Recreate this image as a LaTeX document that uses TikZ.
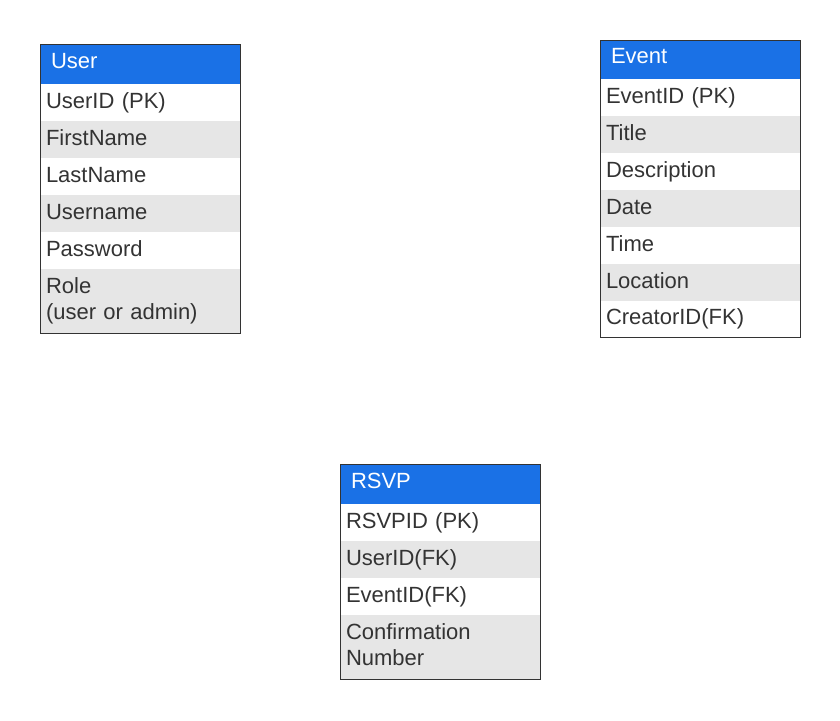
\documentclass[tikz,border=0pt]{standalone}
\usepackage{fontspec}
\setmainfont{Liberation Sans}
\usetikzlibrary{positioning}
\definecolor{lucidblue}{HTML}{1A71E6}
\definecolor{rowgray}{HTML}{E6E6E6}
\definecolor{inkgray}{HTML}{333333}
\tikzset{
  tblhead/.style={fill=lucidblue,text=white,minimum height=40pt,text width=178pt,
    text height=16pt,text depth=8pt,
    inner xsep=11pt,inner ysep=0pt,outer sep=0pt,align=left,font=\fontsize{22}{26}\selectfont},
  tblrow/.style={text=inkgray,minimum height=37pt,text width=188pt,
    text height=16pt,text depth=5pt,
    inner xsep=6pt,inner ysep=0pt,outer sep=0pt,align=left,font=\fontsize{22}{26}\selectfont},
  tblalt/.style={tblrow,fill=rowgray},
  tbltwo/.style={minimum height=64pt,text depth=31pt},
  tblframe/.style={draw=inkgray,line width=0.8pt}
}

\begin{document}
\begin{tikzpicture}[x=1pt,y=-1pt]
	\useasboundingbox (0,0) rectangle (840,720);

	\node [tblhead,anchor=north west] (userhd) at (40,44) {User};
	\node [tblrow,below=0pt of userhd] (userid) {UserID (PK)};
	\node [tblalt,below=0pt of userid] (userfirst) {FirstName};
	\node [tblrow,below=0pt of userfirst] (userlast) {LastName};
	\node [tblalt,below=0pt of userlast] (username) {Username};
	\node [tblrow,below=0pt of username] (userpass) {Password};
	\node [tblalt,tbltwo,below=0pt of userpass] (userrole) {Role\\(user or admin)};
	\draw [tblframe] (userhd.north west) rectangle (userrole.south east);

	\node [tblhead,anchor=north west,minimum height=39pt] (eventhd) at (600,40) {Event};
	\node [tblrow,below=0pt of eventhd] (eventid) {EventID (PK)};
	\node [tblalt,below=0pt of eventid] (eventtitle) {Title};
	\node [tblrow,below=0pt of eventtitle] (eventdesc) {Description};
	\node [tblalt,below=0pt of eventdesc] (eventdate) {Date};
	\node [tblrow,below=0pt of eventdate] (eventtime) {Time};
	\node [tblalt,below=0pt of eventtime] (eventloc) {Location};
	\node [tblrow,below=0pt of eventloc,minimum height=36pt] (eventcreator) {CreatorID(FK)};
	\draw [tblframe] (eventhd.north west) rectangle (eventcreator.south east);

	\node [tblhead,anchor=north west] (rsvphd) at (340,464) {RSVP};
	\node [tblrow,below=0pt of rsvphd] (rsvpid) {RSVPID (PK)};
	\node [tblalt,below=0pt of rsvpid] (rsvpuser) {UserID(FK)};
	\node [tblrow,below=0pt of rsvpuser] (rsvpevent) {EventID(FK)};
	\node [tblalt,tbltwo,below=0pt of rsvpevent] (rsvpconf) {Confirmation\\Number};
	\draw [tblframe] (rsvphd.north west) rectangle (rsvpconf.south east);
\end{tikzpicture}
\end{document}
